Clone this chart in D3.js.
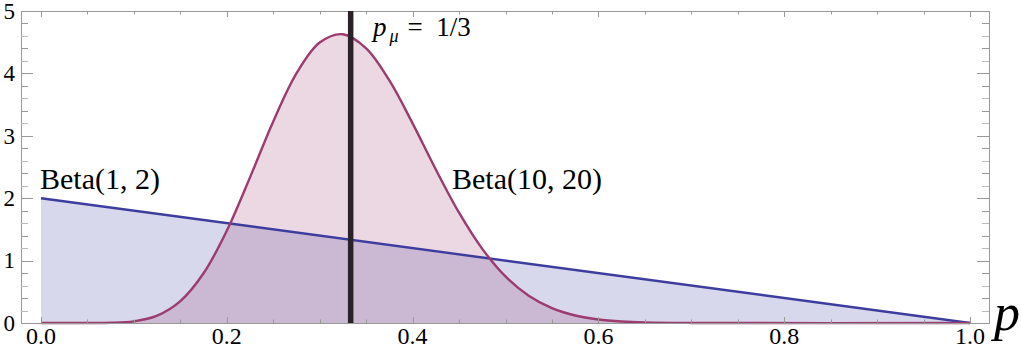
<!DOCTYPE html>
<html>
<head>
<meta charset="utf-8">
<script src="https://cdn.jsdelivr.net/npm/d3@7"></script>
<style>
  body { margin: 0; background: #fff; overflow: hidden; }
  #wrap { position: relative; width: 1021px; height: 347px; }
  #wrap svg { position: absolute; left: 0; top: 0; }
  .lbl { position: absolute; line-height: 1; white-space: nowrap; color: #000; }
</style>
</head>
<body>
<div id="wrap"><svg id="chart" width="1021" height="347"></svg></div>
<script>
// tick values and labels
var xTickVals = [0, 0.2, 0.4, 0.6, 0.8, 1.0];
var xTickLabels = ["0.0", "0.2", "0.4", "0.6", "0.8", "1.0"];
var yTickVals = [0, 1, 2, 3, 4, 5];

// Beta(1,2) density (straight line)
var beta12P = [0, 1];
var beta12D = [2, 0];

// Beta(10,20) density
var beta1020P = [0, 0.05, 0.075, 0.1, 0.125, 0.15, 0.175, 0.2, 0.225, 0.25, 0.275, 0.3, 0.325,
                 0.35, 0.375, 0.4, 0.425, 0.45, 0.475, 0.5, 0.525, 0.55, 0.575, 0.6, 0.625, 0.65, 0.7, 1];
var beta1020D = [0, 0.0001, 0.003, 0.027, 0.118, 0.351, 0.797, 1.478, 2.334, 3.231, 4.0, 4.494, 4.628,
                 4.402, 3.887, 3.2, 2.46, 1.768, 1.188, 0.746, 0.437, 0.238, 0.12, 0.056, 0.024, 0.009, 0.001, 0];

var pMu = 1 / 3;

var wrap = d3.select("#wrap");
var svg = d3.select("#chart");

// html text placed by its baseline
function label(xp, baseline, fs) {
    return wrap.append("div").attr("class", "lbl")
        .attr("style", "font-family:'Liberation Serif', serif;font-size:" + fs + "px;top:" +
              (baseline - 0.8375 * fs) + "px;left:" + xp + "px");
}
// shift anchored labels once their width is known
function anchor(el, tx) {
    var w = el.node().getBoundingClientRect().width;
    el.style("left", (parseFloat(el.style("left")) + tx * w) + "px");
    return el;
}

// frame and scales
var frame = {left: 21, right: 989, top: 11, bottom: 323};
var x = d3.scaleLinear().domain([0, 1]).range([41, 970]);
var y = d3.scaleLinear().domain([0, 5]).range([frame.bottom, frame.top]);

var blue = "rgb(61,61,159)",
    plum = "rgb(155,59,110)";

var s1 = beta12P.map(function(p, i) { return [p, beta12D[i]]; });
var s2 = beta1020P.map(function(p, i) { return [p, beta1020D[i]]; });

var area = d3.area()
    .x(function(d) { return x(d[0]); })
    .y0(y(0))
    .y1(function(d) { return y(d[1]); });
var line = d3.line()
    .x(function(d) { return x(d[0]); })
    .y(function(d) { return y(d[1]); });

// fills first, then lines
svg.append("path").attr("d", area(s1)).attr("fill", blue).attr("fill-opacity", 0.2);
svg.append("path").attr("d", area.curve(d3.curveCatmullRom)(s2)).attr("fill", plum).attr("fill-opacity", 0.2);
svg.append("path").attr("d", line(s1)).attr("fill", "none").attr("stroke", blue).attr("stroke-width", 2.4);
svg.append("path").attr("d", line.curve(d3.curveCatmullRom)(s2)).attr("fill", "none")
    .attr("stroke", plum).attr("stroke-width", 2.4);

// frame
svg.append("rect")
    .attr("x", frame.left + 0.5).attr("y", frame.top + 0.5)
    .attr("width", frame.right - frame.left).attr("height", frame.bottom - frame.top)
    .attr("fill", "none").attr("stroke", "#999").attr("stroke-width", 1);

// ticks on all four sides, drawn inward
var ticks = svg.append("g").attr("stroke", "#999").attr("stroke-width", 1);
var xMinor = d3.range(0, 1.0001, 0.05);
xMinor.forEach(function(v, i) {
    var major = i % 4 === 0;
    var len = major ? 6 : 3.5;
    var xp = Math.round(x(v)) + 0.5;
    ticks.append("line").attr("x1", xp).attr("x2", xp).attr("y1", frame.bottom).attr("y2", frame.bottom - len);
    ticks.append("line").attr("x1", xp).attr("x2", xp).attr("y1", frame.top).attr("y2", frame.top + len);
});
var yMinor = d3.range(0, 5.0001, 0.2);
yMinor.forEach(function(v, i) {
    var major = i % 5 === 0;
    var len = major ? 12 : 7;
    var yp = Math.round(y(v)) + 0.5;
    var c = major || i % 5 === 2 || i % 5 === 4 ? "#999" : "#bbb";
    ticks.append("line").attr("y1", yp).attr("y2", yp).attr("x1", frame.left).attr("x2", frame.left + len).attr("stroke", c);
    ticks.append("line").attr("y1", yp).attr("y2", yp).attr("x1", frame.right).attr("x2", frame.right - len).attr("stroke", c);
});

// vertical line at p_mu
svg.append("line")
    .attr("x1", x(pMu)).attr("x2", x(pMu))
    .attr("y1", frame.top).attr("y2", frame.bottom)
    .attr("stroke", "#2a2228").attr("stroke-width", 5.5);

// tick labels
xTickVals.forEach(function(d, i) {
    anchor(label(x(d), 344, 24).text(xTickLabels[i]), -0.5);
});
yTickVals.forEach(function(d) {
    anchor(label(15, Math.max(y(d) + 8, 17), 23).text(d), -1);
});

// axis label
label(994, 331, 52).style("font-style", "italic").text("p");

// annotations
var pm = label(373, 37, 27);
pm.append("i").text("p");
pm.append("i").style("font-size", "18px").style("position", "relative")
    .style("top", "6px").style("margin-left", "3px").text("μ");
pm.append("span").style("margin-left", "9px").text("=\u00a0\u00a01/3");

label(40, 189, 30).text("Beta(1, 2)");
label(452, 189, 30).text("Beta(10, 20)");
</script>
</body>
</html>
